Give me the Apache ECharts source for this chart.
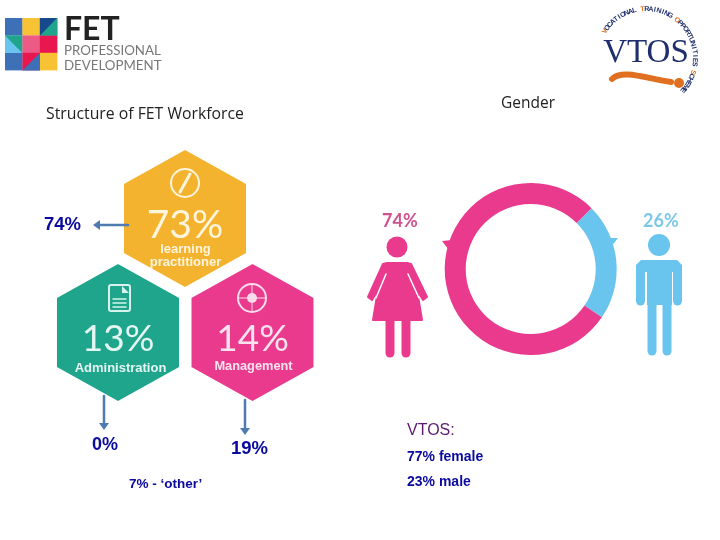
<!DOCTYPE html>
<html>
<head>
<meta charset="utf-8">
<style>html,body{margin:0;padding:0;background:#fff}#main{width:720px;height:540px}</style>
<script src="https://cdn.jsdelivr.net/npm/echarts@6/dist/echarts.min.js"></script>
</head>
<body>
<div id="main"></div>
<script>
// workforce hexagons
var roleNames = ['learning\npractitioner', 'Administration', 'Management'];
var roleShares = [73, 13, 14];
var roleCompare = [74, 0, 19];
var otherShare = 7;
// gender ring: printed labels, and the share the drawn arc really covers
var genderNames = ['Male', 'Female'];
var genderLabels = [26, 74];
var genderArc = [22, 78];
var vtosNames = ['female', 'male'];
var vtosShares = [77, 23];

var PINK = '#e93a8e', BLUE = '#69c4ee', NAVY = '#0a0a9e', ARROW = '#4f7cb0', CREAM = '#fff4dc';
var SANS = '"Liberation Sans", Arial, sans-serif';
var g = [];

function text(s, x, y, size, fill, opt) {
    opt = opt || {};
    g.push({
        type: 'text', x: x, y: y, rotation: opt.rotation || 0, z: opt.z || 5,
        style: {
            text: s, fill: fill, fontSize: size, fontFamily: opt.family || SANS,
            fontWeight: opt.weight || 'normal', align: opt.align || 'left',
            verticalAlign: 'middle', lineHeight: opt.lineHeight
        }
    });
}
function poly(points, fill, opt) {
    opt = opt || {};
    g.push({
        type: 'polygon', z: opt.z || 3, shape: {points: points},
        style: {fill: fill, stroke: opt.stroke || fill, lineWidth: opt.width || 0, lineJoin: 'round'}
    });
}
function line(x1, y1, x2, y2, stroke, w, z) {
    g.push({
        type: 'line', z: z || 4, shape: {x1: x1, y1: y1, x2: x2, y2: y2},
        style: {stroke: stroke, lineWidth: w, lineCap: 'round'}
    });
}
function circle(x, y, r, fill, stroke, w) {
    g.push({
        type: 'circle', z: 4, shape: {cx: x, cy: y, r: r},
        style: {fill: fill || 'transparent', stroke: stroke || 'transparent', lineWidth: w || 0}
    });
}
function hex(cx, cy, color) {
    poly([[cx, cy - 69.5], [cx + 62, cy - 35], [cx + 62, cy + 35], [cx, cy + 69.5], [cx - 62, cy + 35], [cx - 62, cy - 35]], color, {stroke: '#fff', width: 2});
}
function arrowHead(x, y, dx, dy) {
    poly([[x, y], [x - dx * 7 + dy * 5, y - dy * 7 + dx * 5], [x - dx * 7 - dy * 5, y - dy * 7 - dx * 5]], ARROW);
}

// FET logo
var squares = [
    ['#3e70b8', '#f7c234', '#17498f'],
    ['#1fa58c', '#ee5a86', '#e8174f'],
    ['#3e70b8', '#e8174f', '#f7c234']
];
squares.forEach(function (row, r) {
    row.forEach(function (c, i) {
        g.push({type: 'rect', z: 2, shape: {x: 5 + i * 17.4, y: 18 + r * 17.4, width: 17.6, height: 17.6}, style: {fill: c}});
    });
});
poly([[57, 18], [57, 35.4], [40, 35.4]], '#1fa58c');
poly([[5, 35.4], [22.4, 53], [5, 53]], '#69c4ee');
poly([[39.8, 53], [39.8, 70.4], [22.4, 70.4]], '#3e70b8');
text('FET', 64, 30, 32, '#222', {family: 'Lato, sans-serif', weight: 'bold'});
text('PROFESSIONAL', 64, 50.5, 13.3, '#777', {family: 'Lato, sans-serif'});
text('DEVELOPMENT', 64, 65.5, 13.3, '#777', {family: 'Lato, sans-serif'});

// VTOS logo
text('VTOS', 646, 53, 33, '#1f2f6e', {family: '"Liberation Serif", serif', align: 'center'});
var ringText = 'VOCATIONAL TRAINING OPPORTUNITIES SCHEME';
var orangeAt = {0: 1, 11: 1, 20: 1, 34: 1};
for (var i = 0; i < ringText.length; i++) {
    var deg = 147 - i * 188 / (ringText.length - 1);
    var rad = deg * Math.PI / 180;
    text(ringText[i], 646 + 49 * Math.cos(rad), 58 - 49 * Math.sin(rad), 7, orangeAt[i] ? '#e0701f' : '#1f2f6e', {
        rotation: rad - Math.PI / 2, align: 'center', weight: 'bold'
    });
}
g.push({
    type: 'bezierCurve', z: 4,
    shape: {x1: 612, y1: 79, cpx1: 622, cpy1: 69, cpx2: 645, cpy2: 78, x2: 671, y2: 82},
    style: {stroke: '#e0701f', lineWidth: 6, lineCap: 'round', fill: 'transparent'}
});
circle(679, 83, 5, '#e0701f');

// titles
text('Structure of FET Workforce', 46, 114, 15.8, '#222', {family: '"Open Sans", sans-serif'});
text('Gender', 501, 103.5, 15.5, '#222', {family: '"Open Sans", sans-serif'});

// hexagons
hex(185, 218.5, '#f4b32e');
hex(118, 332.5, '#1fa58c');
hex(252.5, 332.5, PINK);

circle(185, 183, 14, null, CREAM, 2);
line(180, 192, 190, 174, CREAM, 3);
text(roleShares[0] + '%', 185, 225, 39, CREAM, {family: 'Lato, sans-serif', align: 'center', z: 6});
text(roleNames[0], 185.5, 256, 13, CREAM, {align: 'center', weight: 'bold', lineHeight: 12.5, z: 6});

g.push({type: 'rect', z: 4, shape: {x: 109, y: 285, width: 21, height: 26, r: 2}, style: {fill: 'transparent', stroke: '#d7f3ec', lineWidth: 2}});
poly([[122, 286], [129, 293], [122, 293]], '#d7f3ec');
line(113, 299, 126, 299, '#d7f3ec', 1.5);
line(113, 303, 126, 303, '#d7f3ec', 1.5);
line(113, 307, 126, 307, '#d7f3ec', 1.5);
text(roleShares[1] + '%', 118, 339.5, 37, '#e4f6f1', {family: 'Lato, sans-serif', align: 'center'});
text(roleNames[1], 120.5, 368, 13, '#e4f6f1', {align: 'center', weight: 'bold'});

circle(252, 298, 14, null, '#fbdcea', 2);
circle(252, 298, 5, '#fbdcea');
line(238, 298, 266, 298, '#fbdcea', 1);
line(252, 284, 252, 312, '#fbdcea', 1);
text(roleShares[2] + '%', 252.5, 339.5, 37, '#fbe3ee', {family: 'Lato, sans-serif', align: 'center'});
text(roleNames[2], 253.5, 366, 12.8, '#fbe3ee', {align: 'center', weight: 'bold'});

// comparison arrows and figures
line(128, 225, 100, 225, ARROW, 2.5);
arrowHead(93, 225, -1, 0);
line(104, 396, 104, 424, ARROW, 2.5);
arrowHead(104, 430, 0, 1);
line(245, 400, 245, 429, ARROW, 2.5);
arrowHead(245, 435, 0, 1);
text(roleCompare[0] + '%', 44, 225, 18.5, NAVY, {weight: 'bold'});
text(roleCompare[1] + '%', 92, 445, 18, NAVY, {weight: 'bold'});
text(roleCompare[2] + '%', 231, 449, 18.5, NAVY, {weight: 'bold'});
text(otherShare + '% - ‘other’', 129, 484, 13.5, NAVY, {weight: 'bold'});

// VTOS note
text('VTOS:', 407, 431, 16, '#5a1a6e');
text(vtosShares[0] + '% ' + vtosNames[0], 407, 457, 14, NAVY, {weight: 'bold'});
text(vtosShares[1] + '% ' + vtosNames[1], 407, 482, 14, NAVY, {weight: 'bold'});

// ring tabs and figures
poly([[442, 241], [452, 240], [449, 250]], PINK);
poly([[618, 238], [608, 238], [611, 247]], BLUE);
text(genderLabels[1] + '%', 382, 221, 18, '#d0518f', {family: 'Lato, sans-serif', weight: 'bold'});
text(genderLabels[0] + '%', 643, 221, 18, '#7cc8ea', {family: 'Lato, sans-serif', weight: 'bold'});

circle(397, 247, 10.5, PINK);
poly([[387, 263], [407, 263], [411, 264], [427, 297], [423, 300], [417, 290], [422, 320], [373, 320], [378, 290], [372, 300], [368, 297], [383, 264]], PINK, {width: 2});
line(386, 274, 376, 298, '#fff', 1.5, 5);
line(408, 274, 419, 298, '#fff', 1.5, 5);
line(390, 320, 390, 353, PINK, 9);
line(406, 320, 406, 353, PINK, 9);

circle(659, 245, 11, BLUE);
poly([[641, 260], [677, 260], [682, 265], [682, 272], [636, 272], [636, 265]], BLUE);
g.push({type: 'rect', z: 3, shape: {x: 647, y: 270, width: 25, height: 35}, style: {fill: BLUE}});
line(640.5, 268, 640.5, 301, BLUE, 9);
line(677.5, 268, 677.5, 301, BLUE, 9);
line(652, 300, 652, 351, BLUE, 9);
line(667, 300, 667, 351, BLUE, 9);

var myChart = echarts.init(document.getElementById('main'));
myChart.setOption({
    animation: false,
    backgroundColor: '#fff',
    graphic: {elements: g},
    series: [{
        type: 'pie',
        center: [530.7, 269],
        radius: [65, 86],
        startAngle: 45,
        silent: true,
        label: {show: false},
        labelLine: {show: false},
        data: genderNames.map(function (name, i) {
            return {name: name, value: genderArc[i], itemStyle: {color: i === 0 ? BLUE : PINK}};
        })
    }]
});
</script>
</body>
</html>
